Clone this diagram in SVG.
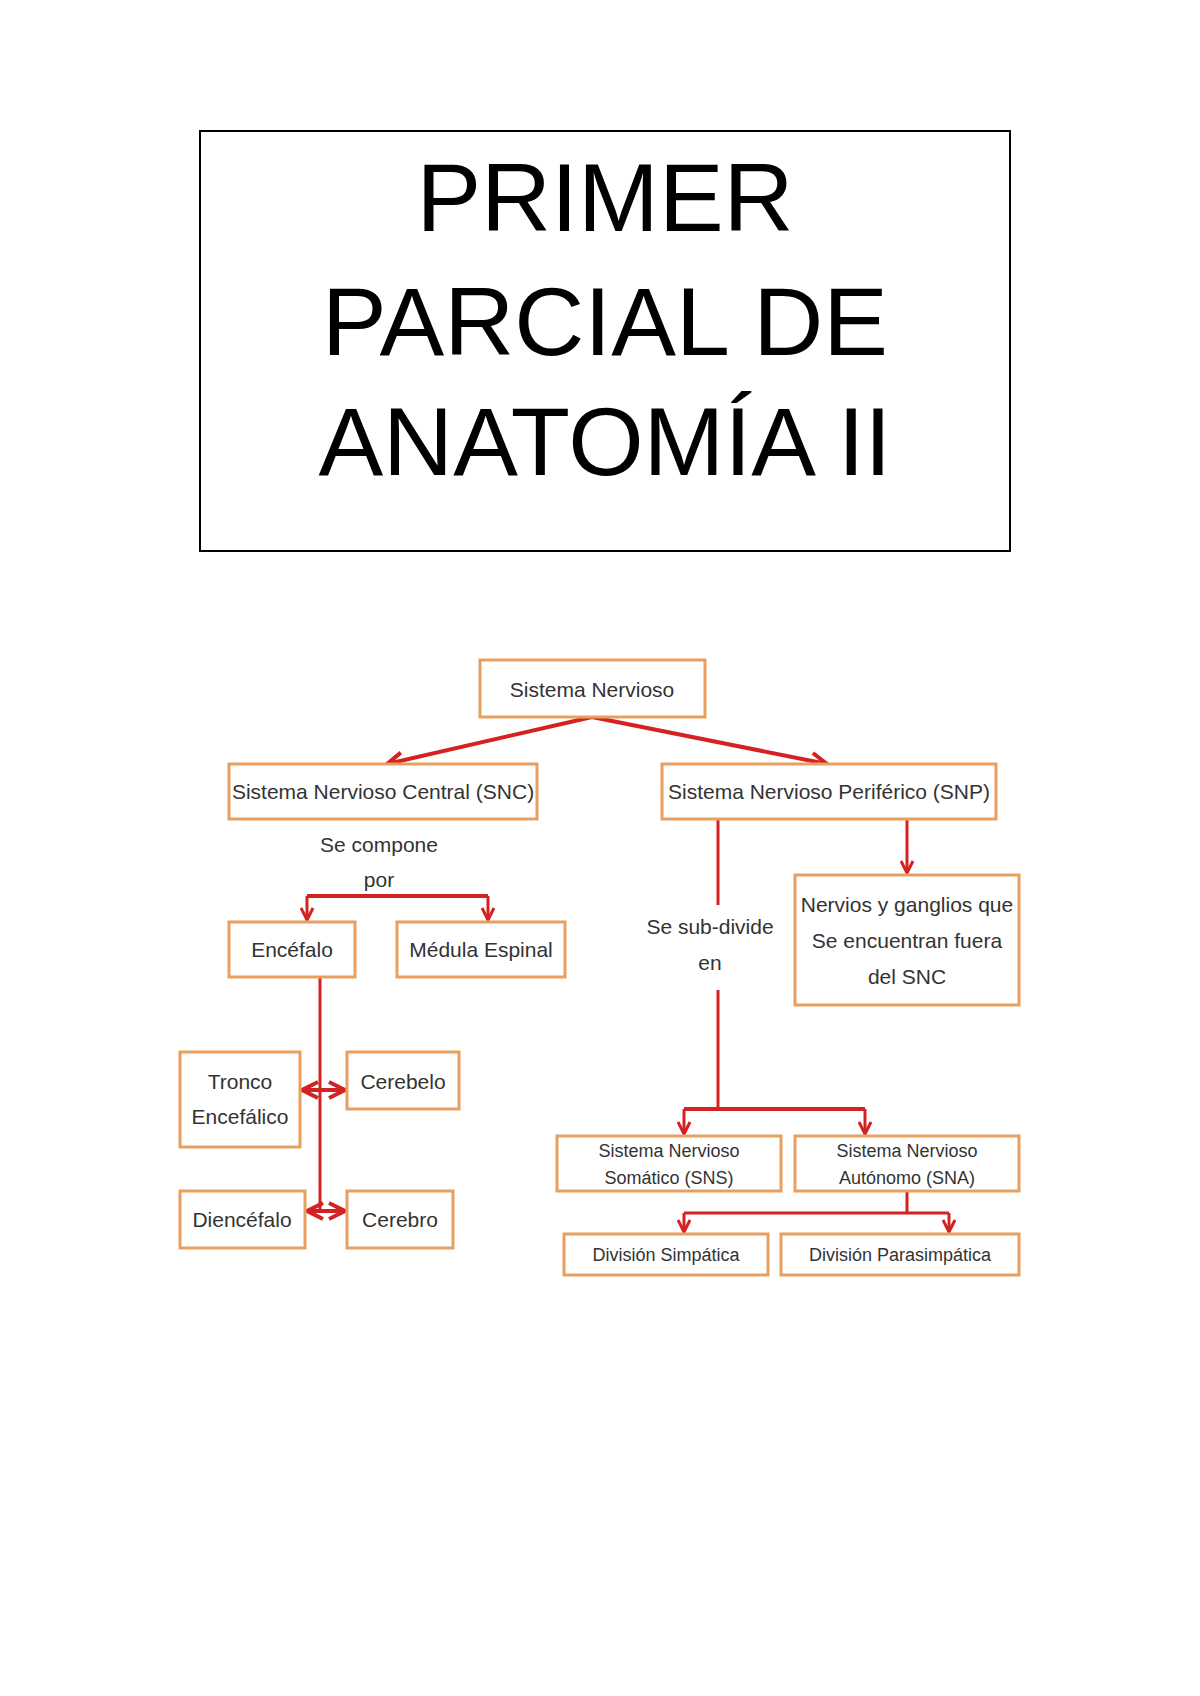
<svg xmlns="http://www.w3.org/2000/svg" width="1200" height="1696" viewBox="0 0 1200 1696">
<style>
.b{fill:#fff;stroke:#E8A060;stroke-width:3}
.t{font-family:"Liberation Sans",Arial,sans-serif;font-size:21px;fill:#333;text-anchor:middle}
.s{font-size:18px}
.c{stroke:#D42222;stroke-width:3;fill:none}
.k{stroke-width:4}
.h{font-family:"Liberation Sans",Arial,sans-serif;font-size:97px;fill:#000;text-anchor:middle}
</style>
<defs>
<marker id="a" viewBox="0 0 10 10" refX="9" refY="5" markerWidth="5" markerHeight="5" orient="auto-start-reverse"><path d="M1,1 L9,5 L1,9" fill="none" stroke="#D42222" stroke-width="2"/></marker>
</defs>
<rect width="1200" height="1696" fill="#fff"/>
<g id="title"><rect x="200" y="131" width="810" height="420" fill="none" stroke="#000" stroke-width="2"/>
<text class="h" x="605" y="231">PRIMER</text><text class="h" x="605" y="355">PARCIAL DE</text><text class="h" x="605" y="475">ANATOMÍA II</text></g>
<g id="connectors">
<path class="c k" d="M592,717 L387,764" marker-end="url(#a)"/>
<path class="c k" d="M592,717 L827,764" marker-end="url(#a)"/>
<path class="c k" d="M307,896 H488"/>
<path class="c" d="M307,896 V920" marker-end="url(#a)"/>
<path class="c" d="M488,896 V920" marker-end="url(#a)"/>
<path class="c" d="M320,977 V1211"/>
<path class="c k" d="M302,1090 H345" marker-start="url(#a)" marker-end="url(#a)"/>
<path class="c k" d="M307,1211 H345" marker-start="url(#a)" marker-end="url(#a)"/>
<path class="c" d="M718,819 V905 M718,990 V1109"/>
<path class="c k" d="M684,1109 H865"/>
<path class="c" d="M684,1109 V1134" marker-end="url(#a)"/>
<path class="c" d="M865,1109 V1134" marker-end="url(#a)"/>
<path class="c" d="M907,819 V873" marker-end="url(#a)"/>
<path class="c" d="M907,1191 V1213 M684,1213 H949"/>
<path class="c" d="M684,1213 V1232" marker-end="url(#a)"/>
<path class="c" d="M949,1213 V1232" marker-end="url(#a)"/>
<text class="t" x="379" y="852">Se compone</text><text class="t" x="379" y="887">por</text>
<text class="t" x="710" y="934">Se sub-divide</text><text class="t" x="710" y="970">en</text>
</g>
<g id="n1"><rect class="b" x="480" y="660" width="225" height="57"/><text class="t" x="592" y="697">Sistema Nervioso</text></g>
<g id="n2"><rect class="b" x="229" y="764" width="308" height="55"/><text class="t" x="383" y="799">Sistema Nervioso Central (SNC)</text></g>
<g id="n3"><rect class="b" x="662" y="764" width="334" height="55"/><text class="t" x="829" y="799">Sistema Nervioso Periférico (SNP)</text></g>
<g id="n4"><rect class="b" x="229" y="922" width="126" height="55"/><text class="t" x="292" y="957">Encéfalo</text></g>
<g id="n5"><rect class="b" x="397" y="922" width="168" height="55"/><text class="t" x="481" y="957">Médula Espinal</text></g>
<g id="n6"><rect class="b" x="795" y="875" width="224" height="130"/><text class="t" x="907" y="912">Nervios y ganglios que</text><text class="t" x="907" y="948">Se encuentran fuera</text><text class="t" x="907" y="984">del SNC</text></g>
<g id="n7"><rect class="b" x="180" y="1052" width="120" height="95"/><text class="t" x="240" y="1089">Tronco</text><text class="t" x="240" y="1124">Encefálico</text></g>
<g id="n8"><rect class="b" x="347" y="1052" width="112" height="57"/><text class="t" x="403" y="1089">Cerebelo</text></g>
<g id="n9"><rect class="b" x="180" y="1191" width="125" height="57"/><text class="t" x="242" y="1227">Diencéfalo</text></g>
<g id="n10"><rect class="b" x="347" y="1191" width="106" height="57"/><text class="t" x="400" y="1227">Cerebro</text></g>
<g id="n11"><rect class="b" x="557" y="1136" width="224" height="55"/><text class="t s" x="669" y="1157">Sistema Nervioso</text><text class="t s" x="669" y="1184">Somático (SNS)</text></g>
<g id="n12"><rect class="b" x="795" y="1136" width="224" height="55"/><text class="t s" x="907" y="1157">Sistema Nervioso</text><text class="t s" x="907" y="1184">Autónomo (SNA)</text></g>
<g id="n13"><rect class="b" x="564" y="1234" width="204" height="41"/><text class="t s" x="666" y="1261">División Simpática</text></g>
<g id="n14"><rect class="b" x="781" y="1234" width="238" height="41"/><text class="t s" x="900" y="1261">División Parasimpática</text></g>
</svg>
